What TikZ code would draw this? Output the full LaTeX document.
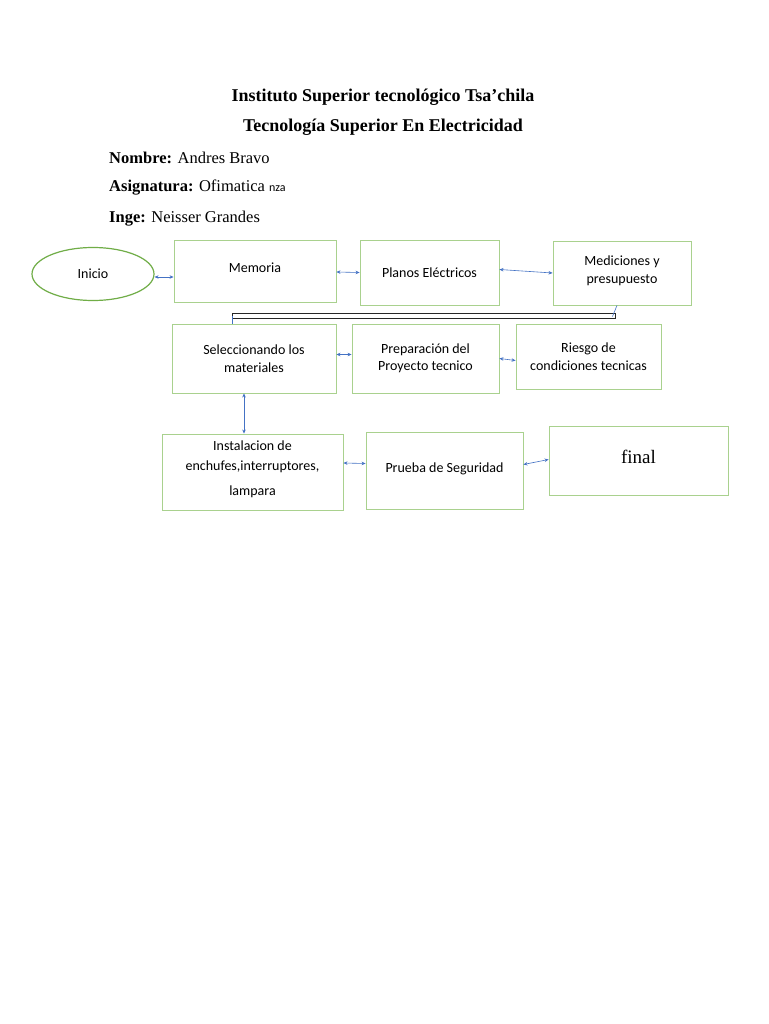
\documentclass[tikz,border=0pt]{standalone}
\usepackage{fontspec}
\setmainfont{Liberation Serif}
\newfontfamily\calibri{Carlito}
\usetikzlibrary{arrows.meta,shapes.geometric}

\definecolor{boxgreen}{HTML}{A9D18E}
\definecolor{ovalgreen}{HTML}{70AD47}
\definecolor{linkblue}{HTML}{4472C4}

\begin{document}
\begin{tikzpicture}[
  x=1pt,y=-1pt,
  >={Stealth[length=4pt,width=3.5pt]},
  box/.style={rectangle,draw=boxgreen,line width=0.9pt,inner sep=0pt,align=center,
    font=\calibri\fontsize{14}{17.5}\selectfont},
  oval/.style={ellipse,draw=ovalgreen,line width=1.2pt,inner sep=0pt,
    font=\calibri\fontsize{14}{17}\selectfont},
  link/.style={draw=linkblue,line width=0.6pt,<->},
  head/.style={font=\bfseries\fontsize{18}{20}\selectfont},
  info/.style={anchor=west,inner sep=0pt,font=\fontsize{16.5}{18}\selectfont}
]

\useasboundingbox[fill=white] (0,0) rectangle (768,1024);

% encabezado
\node[head] (titulo) at (383,97) {Instituto Superior tecnológico Tsa’chila};
\node[head] (carrera) at (383,127) {Tecnología Superior En Electricidad};
\node[info] (nombre) at (109,158) {\textbf{Nombre:} Andres Bravo};
\node[info] (asignatura) at (109,188) {\textbf{Asignatura:} Ofimatica {\calibri\fontsize{12}{14}\selectfont nza}};
\node[info] (inge) at (109,219) {\textbf{Inge:} Neisser Grandes};

% primera fila
\node[oval,minimum width=122,minimum height=53] (inicio) at (93,274) {Inicio};
\node[box,minimum width=162,minimum height=62,text depth=7pt] (memoria) at (255,271) {Memoria};
\node[box,minimum width=139,minimum height=65] (planos) at (429.5,272.5) {Planos Eléctricos};
\node[box,minimum width=138,minimum height=64,text depth=7pt] (mediciones) at (622,273) {Mediciones y\\presupuesto};

% barra
\node[rectangle,draw=black!85,fill=white,line width=0.9pt,inner sep=0pt,
  minimum width=383,minimum height=5] (barra) at (423.5,315.5) {};

% segunda fila
\node[box,minimum width=164,minimum height=69] (seleccion) at (254,358.5) {Seleccionando los\\materiales};
\node[box,minimum width=147,minimum height=69] (preparacion) at (425.5,358.5) {Preparación del\\Proyecto tecnico};
\node[box,minimum width=145,minimum height=65] (riesgo) at (588.5,356.5) {Riesgo de\\condiciones tecnicas};

% tercera fila
\node[box,minimum width=181,minimum height=76,text depth=8pt] (instalacion) at (252.5,472)
  {Instalacion de\\[3pt]enchufes,interruptores,\\[7pt]lampara};
\node[box,minimum width=157,minimum height=77,text depth=5pt] (prueba) at (444.5,470.5) {Prueba de Seguridad};
\node[box,minimum width=179,minimum height=69,text depth=7pt,
  font=\fontsize{19}{22}\selectfont] (final) at (638.5,460.5) {final};

% conexiones
\draw[link] ([yshift=-3pt]inicio.east) -- ([yshift=-6pt]memoria.west);
\draw[link] ([yshift=-1pt]memoria.east) -- ([yshift=0pt]planos.west);
\draw[link] ([yshift=3pt]planos.east) -- ([yshift=0pt]mediciones.west);
\draw[linkblue,line width=0.6pt] ([xshift=-5pt]mediciones.south) -- ([xshift=-3pt,yshift=-1pt]barra.east);
\draw[linkblue,line width=0.6pt] ([xshift=1pt]barra.west) -- ([xshift=1pt]barra.west |- seleccion.north);
\draw[link] ([yshift=4pt]seleccion.east) -- ([yshift=4pt]preparacion.west);
\draw[link] ([yshift=0pt]preparacion.east) -- ([yshift=-4pt]riesgo.west);
\draw[link] ([xshift=-10pt]seleccion.south) -- ([xshift=-10pt]seleccion.south |- instalacion.north);
\draw[link] ([yshift=9pt]instalacion.east) -- ([yshift=7pt]prueba.west);
\draw[link] ([yshift=6pt]prueba.east) -- ([yshift=1pt]final.west);

\end{tikzpicture}
\end{document}
